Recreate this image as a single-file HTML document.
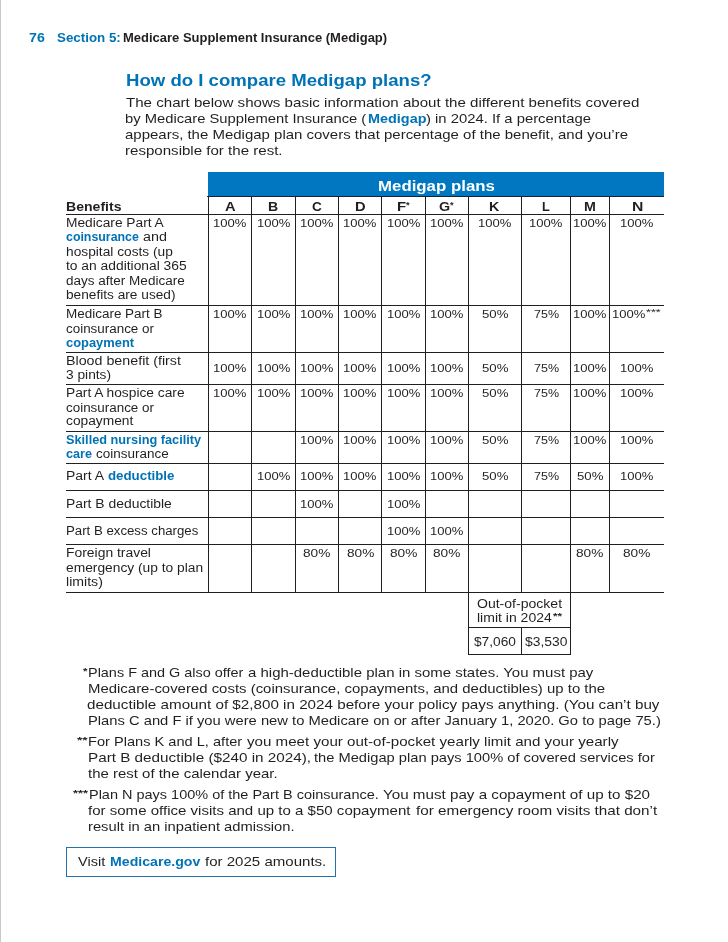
<!DOCTYPE html>
<html lang="en"><head><meta charset="utf-8"><title>Medigap plans</title>
<style>
html,body{margin:0;padding:0;background:#fff}
body{width:728px;height:942px;position:relative;overflow:hidden;font-family:"Liberation Sans", sans-serif;color:#231f20}
.t{position:absolute;white-space:pre;transform-origin:0 0;line-height:1;display:block}
#pg{position:absolute;left:0;top:0;width:728px;height:942px;will-change:transform}
.r{position:absolute}
b{font-weight:700}
b.l{color:#0073b6}
b.w{color:#fff}
</style></head>
<body>
<div id="pg">
<div class="r" style="left:0;top:0;width:1px;height:942px;background:#c9c9c9"></div>
<div class="r" style="left:208px;top:172px;width:456px;height:24px;background:#0077c0"></div>
<div class="r" style="left:207px;top:196px;width:457px;height:1px;background:#14243a"></div>
<div class="r" style="left:66px;top:214px;width:598px;height:1px;background:#231f20"></div>
<div class="r" style="left:66px;top:305px;width:598px;height:1px;background:#231f20"></div>
<div class="r" style="left:66px;top:352px;width:598px;height:1px;background:#231f20"></div>
<div class="r" style="left:66px;top:384px;width:598px;height:1px;background:#231f20"></div>
<div class="r" style="left:66px;top:431px;width:598px;height:1px;background:#231f20"></div>
<div class="r" style="left:66px;top:463px;width:598px;height:1px;background:#231f20"></div>
<div class="r" style="left:66px;top:490px;width:598px;height:1px;background:#231f20"></div>
<div class="r" style="left:66px;top:517px;width:598px;height:1px;background:#231f20"></div>
<div class="r" style="left:66px;top:544px;width:598px;height:1px;background:#231f20"></div>
<div class="r" style="left:66px;top:592px;width:598px;height:1px;background:#231f20"></div>
<div class="r" style="left:208px;top:196px;width:1px;height:397px;background:#231f20"></div>
<div class="r" style="left:251px;top:196px;width:1px;height:397px;background:#231f20"></div>
<div class="r" style="left:295px;top:196px;width:1px;height:397px;background:#231f20"></div>
<div class="r" style="left:338px;top:196px;width:1px;height:397px;background:#231f20"></div>
<div class="r" style="left:381px;top:196px;width:1px;height:397px;background:#231f20"></div>
<div class="r" style="left:425px;top:196px;width:1px;height:397px;background:#231f20"></div>
<div class="r" style="left:468px;top:196px;width:1px;height:397px;background:#231f20"></div>
<div class="r" style="left:521px;top:196px;width:1px;height:397px;background:#231f20"></div>
<div class="r" style="left:570px;top:196px;width:1px;height:397px;background:#231f20"></div>
<div class="r" style="left:609px;top:196px;width:1px;height:397px;background:#231f20"></div>
<div class="r" style="left:468px;top:592px;width:1px;height:63px;background:#231f20"></div>
<div class="r" style="left:570px;top:592px;width:1px;height:63px;background:#231f20"></div>
<div class="r" style="left:521px;top:627px;width:1px;height:28px;background:#231f20"></div>
<div class="r" style="left:468px;top:627px;width:103px;height:1px;background:#231f20"></div>
<div class="r" style="left:468px;top:654px;width:103px;height:1px;background:#231f20"></div>
<div class="r" style="left:66px;top:847px;width:268px;height:28px;border:1px solid #2273ab;box-sizing:content-box"></div>
<div class="t" id="t0" style="left:29.31px;top:31px;font-size:12px;line-height:14px;transform:scaleX(1.1840);"><b class="l">76</b></div>
<div class="t" id="t1" style="left:57.44px;top:31px;font-size:12px;line-height:14px;transform:scaleX(1.1121);"><b class="l">Section&#32;5:</b></div>
<div class="t" id="t2" style="left:122.79px;top:31px;font-size:12px;line-height:14px;transform:scaleX(1.0822);"><b>Medicare&#32;Supplement&#32;Insurance&#32;(Medigap)</b></div>
<div class="t" id="t3" style="left:125.74px;top:72px;font-size:16px;line-height:17px;transform:scaleX(1.1613);"><b class="l">How&#32;do&#32;I&#32;compare&#32;Medigap&#32;plans?</b></div>
<div class="t" id="t4" style="left:125.71px;top:95px;font-size:13.2px;line-height:15px;transform:scaleX(1.1448);">The&#32;chart&#32;below&#32;shows&#32;basic&#32;information&#32;about&#32;the&#32;different&#32;benefits&#32;covered</div>
<div class="t" id="t5" style="left:125.16px;top:111px;font-size:13.2px;line-height:15px;transform:scaleX(1.1194);">by&#32;Medicare&#32;Supplement&#32;Insurance&#32;(</div>
<div class="t" id="t6" style="left:367.68px;top:111px;font-size:13.2px;line-height:15px;transform:scaleX(1.0928);"><b class="l">Medigap</b></div>
<div class="t" id="t7" style="left:426.32px;top:111px;font-size:13.2px;line-height:15px;transform:scaleX(1.1245);">)&#32;in&#32;2024.&#32;If&#32;a&#32;percentage</div>
<div class="t" id="t8" style="left:125.43px;top:127px;font-size:13.2px;line-height:15px;transform:scaleX(1.1359);">appears,&#32;the&#32;Medigap&#32;plan&#32;covers&#32;that&#32;percentage&#32;of&#32;the&#32;benefit,&#32;and&#32;you’re</div>
<div class="t" id="t9" style="left:125.14px;top:143px;font-size:13.2px;line-height:15px;transform:scaleX(1.1433);">responsible&#32;for&#32;the&#32;rest.</div>
<div class="t" id="t10" style="left:377.54px;top:178px;font-size:14.5px;line-height:16px;transform:scaleX(1.1606);"><b class="w">Medigap&#32;plans</b></div>
<div class="t" id="t11" style="left:66.12px;top:200px;font-size:12px;line-height:14px;transform:scaleX(1.1719);"><b>Benefits</b></div>
<div class="t" id="t12" style="left:65.85px;top:216px;font-size:12px;line-height:14px;transform:scaleX(1.1454);">Medicare&#32;Part&#32;A</div>
<div class="t" id="t13" style="left:66.48px;top:230px;font-size:12px;line-height:14px;transform:scaleX(1.0308);"><b class="l">coinsurance</b></div>
<div class="t" id="t14" style="left:142.70px;top:230px;font-size:12px;line-height:14px;transform:scaleX(1.1947);">and</div>
<div class="t" id="t15" style="left:66.14px;top:245px;font-size:12px;line-height:14px;transform:scaleX(1.1447);">hospital&#32;costs&#32;(up</div>
<div class="t" id="t16" style="left:66.21px;top:259px;font-size:12px;line-height:14px;transform:scaleX(1.1519);">to&#32;an&#32;additional&#32;365</div>
<div class="t" id="t17" style="left:66.44px;top:274px;font-size:12px;line-height:14px;transform:scaleX(1.1263);">days&#32;after&#32;Medicare</div>
<div class="t" id="t18" style="left:66.15px;top:288px;font-size:12px;line-height:14px;transform:scaleX(1.1398);">benefits&#32;are&#32;used)</div>
<div class="t" id="t19" style="left:65.88px;top:307px;font-size:12px;line-height:14px;transform:scaleX(1.1219);">Medicare&#32;Part&#32;B</div>
<div class="t" id="t20" style="left:66.44px;top:322px;font-size:12px;line-height:14px;transform:scaleX(1.1179);">coinsurance&#32;or</div>
<div class="t" id="t21" style="left:66.46px;top:336px;font-size:12px;line-height:14px;transform:scaleX(1.0741);"><b class="l">copayment</b></div>
<div class="t" id="t22" style="left:65.81px;top:354px;font-size:12px;line-height:14px;transform:scaleX(1.1885);">Blood&#32;benefit&#32;(first</div>
<div class="t" id="t23" style="left:66.43px;top:368px;font-size:12px;line-height:14px;transform:scaleX(1.1451);">3&#32;pints)</div>
<div class="t" id="t24" style="left:65.85px;top:386px;font-size:12px;line-height:14px;transform:scaleX(1.1471);">Part&#32;A&#32;hospice&#32;care</div>
<div class="t" id="t25" style="left:66.44px;top:401px;font-size:12px;line-height:14px;transform:scaleX(1.1179);">coinsurance&#32;or</div>
<div class="t" id="t26" style="left:66.43px;top:414px;font-size:12px;line-height:14px;transform:scaleX(1.1468);">copayment</div>
<div class="t" id="t27" style="left:66.47px;top:433px;font-size:12px;line-height:14px;transform:scaleX(1.0604);"><b class="l">Skilled&#32;nursing&#32;facility</b></div>
<div class="t" id="t28" style="left:66.47px;top:447px;font-size:12px;line-height:14px;transform:scaleX(1.0526);"><b class="l">care</b></div>
<div class="t" id="t29" style="left:96.14px;top:447px;font-size:12px;line-height:14px;transform:scaleX(1.1231);">coinsurance</div>
<div class="t" id="t30" style="left:65.83px;top:469px;font-size:12px;line-height:14px;transform:scaleX(1.1654);">Part&#32;A</div>
<div class="t" id="t31" style="left:107.85px;top:469px;font-size:12px;line-height:14px;transform:scaleX(1.1072);"><b class="l">deductible</b></div>
<div class="t" id="t32" style="left:65.84px;top:497px;font-size:12px;line-height:14px;transform:scaleX(1.1578);">Part&#32;B&#32;deductible</div>
<div class="t" id="t33" style="left:65.90px;top:524px;font-size:12px;line-height:14px;transform:scaleX(1.1023);">Part&#32;B&#32;excess&#32;charges</div>
<div class="t" id="t34" style="left:65.84px;top:546px;font-size:12px;line-height:14px;transform:scaleX(1.1580);">Foreign&#32;travel</div>
<div class="t" id="t35" style="left:66.43px;top:561px;font-size:12px;line-height:14px;transform:scaleX(1.1484);">emergency&#32;(up&#32;to&#32;plan</div>
<div class="t" id="t36" style="left:66.12px;top:575px;font-size:12px;line-height:14px;transform:scaleX(1.1767);">limits)</div>
<div class="t" id="t37" style="left:224.59px;top:200px;font-size:12px;line-height:14px;transform:scaleX(1.2250);"><b>A</b></div>
<div class="t" id="t38" style="left:268.32px;top:200px;font-size:12px;line-height:14px;transform:scaleX(1.1733);"><b>B</b></div>
<div class="t" id="t39" style="left:311.73px;top:200px;font-size:12px;line-height:14px;transform:scaleX(1.1355);"><b>C</b></div>
<div class="t" id="t40" style="left:354.88px;top:200px;font-size:12px;line-height:14px;transform:scaleX(1.2267);"><b>D</b></div>
<div class="t" id="t41" style="left:396.66px;top:200px;font-size:12px;line-height:14px;transform:scaleX(1.2480);"><b>F</b></div>
<div class="t" id="t42" style="left:439.21px;top:200px;font-size:12px;line-height:14px;transform:scaleX(1.1879);"><b>G</b></div>
<div class="t" id="t43" style="left:489.41px;top:200px;font-size:12px;line-height:14px;transform:scaleX(1.1871);"><b>K</b></div>
<div class="t" id="t44" style="left:542.21px;top:200px;font-size:12px;line-height:14px;transform:scaleX(1.0560);"><b>L</b></div>
<div class="t" id="t45" style="left:584.01px;top:200px;font-size:12px;line-height:14px;transform:scaleX(1.1882);"><b>M</b></div>
<div class="t" id="t46" style="left:631.52px;top:200px;font-size:12px;line-height:14px;transform:scaleX(1.3103);"><b>N</b></div>
<div class="t" id="t47" style="left:406.20px;top:200px;font-size:9px;line-height:10px;transform:scaleX(1.0286);"><b>*</b></div>
<div class="t" id="t48" style="left:450.40px;top:200px;font-size:9px;line-height:10px;transform:scaleX(1.0286);"><b>*</b></div>
<div class="t" id="t49" style="left:212.95px;top:217px;font-size:11.5px;line-height:12px;transform:scaleX(1.1327);">100%</div>
<div class="t" id="t50" style="left:256.55px;top:217px;font-size:11.5px;line-height:12px;transform:scaleX(1.1327);">100%</div>
<div class="t" id="t51" style="left:300.15px;top:217px;font-size:11.5px;line-height:12px;transform:scaleX(1.1327);">100%</div>
<div class="t" id="t52" style="left:343.45px;top:217px;font-size:11.5px;line-height:12px;transform:scaleX(1.1327);">100%</div>
<div class="t" id="t53" style="left:386.95px;top:217px;font-size:11.5px;line-height:12px;transform:scaleX(1.1327);">100%</div>
<div class="t" id="t54" style="left:430.40px;top:217px;font-size:11.5px;line-height:12px;transform:scaleX(1.1327);">100%</div>
<div class="t" id="t55" style="left:478.40px;top:217px;font-size:11.5px;line-height:12px;transform:scaleX(1.1327);">100%</div>
<div class="t" id="t56" style="left:529.40px;top:217px;font-size:11.5px;line-height:12px;transform:scaleX(1.1327);">100%</div>
<div class="t" id="t57" style="left:573.30px;top:217px;font-size:11.5px;line-height:12px;transform:scaleX(1.1327);">100%</div>
<div class="t" id="t58" style="left:619.95px;top:217px;font-size:11.5px;line-height:12px;transform:scaleX(1.1327);">100%</div>
<div class="t" id="t59" style="left:212.95px;top:308px;font-size:11.5px;line-height:12px;transform:scaleX(1.1327);">100%</div>
<div class="t" id="t60" style="left:256.55px;top:308px;font-size:11.5px;line-height:12px;transform:scaleX(1.1327);">100%</div>
<div class="t" id="t61" style="left:300.15px;top:308px;font-size:11.5px;line-height:12px;transform:scaleX(1.1327);">100%</div>
<div class="t" id="t62" style="left:343.45px;top:308px;font-size:11.5px;line-height:12px;transform:scaleX(1.1327);">100%</div>
<div class="t" id="t63" style="left:386.95px;top:308px;font-size:11.5px;line-height:12px;transform:scaleX(1.1327);">100%</div>
<div class="t" id="t64" style="left:430.40px;top:308px;font-size:11.5px;line-height:12px;transform:scaleX(1.1327);">100%</div>
<div class="t" id="t65" style="left:481.93px;top:308px;font-size:11.5px;line-height:12px;transform:scaleX(1.1461);">50%</div>
<div class="t" id="t66" style="left:533.61px;top:308px;font-size:11.5px;line-height:12px;transform:scaleX(1.0876);">75%</div>
<div class="t" id="t67" style="left:573.30px;top:308px;font-size:11.5px;line-height:12px;transform:scaleX(1.1327);">100%</div>
<div class="t" id="t68" style="left:612.35px;top:308px;font-size:11.5px;line-height:12px;transform:scaleX(1.1327);">100%</div>
<div class="t" id="t69" style="left:645.87px;top:306px;font-size:9.5px;line-height:11px;transform:scaleX(1.3209);">***</div>
<div class="t" id="t70" style="left:212.95px;top:362px;font-size:11.5px;line-height:12px;transform:scaleX(1.1327);">100%</div>
<div class="t" id="t71" style="left:256.55px;top:362px;font-size:11.5px;line-height:12px;transform:scaleX(1.1327);">100%</div>
<div class="t" id="t72" style="left:300.15px;top:362px;font-size:11.5px;line-height:12px;transform:scaleX(1.1327);">100%</div>
<div class="t" id="t73" style="left:343.45px;top:362px;font-size:11.5px;line-height:12px;transform:scaleX(1.1327);">100%</div>
<div class="t" id="t74" style="left:386.95px;top:362px;font-size:11.5px;line-height:12px;transform:scaleX(1.1327);">100%</div>
<div class="t" id="t75" style="left:430.40px;top:362px;font-size:11.5px;line-height:12px;transform:scaleX(1.1327);">100%</div>
<div class="t" id="t76" style="left:481.93px;top:362px;font-size:11.5px;line-height:12px;transform:scaleX(1.1461);">50%</div>
<div class="t" id="t77" style="left:533.61px;top:362px;font-size:11.5px;line-height:12px;transform:scaleX(1.0876);">75%</div>
<div class="t" id="t78" style="left:573.30px;top:362px;font-size:11.5px;line-height:12px;transform:scaleX(1.1327);">100%</div>
<div class="t" id="t79" style="left:619.95px;top:362px;font-size:11.5px;line-height:12px;transform:scaleX(1.1327);">100%</div>
<div class="t" id="t80" style="left:212.95px;top:387px;font-size:11.5px;line-height:12px;transform:scaleX(1.1327);">100%</div>
<div class="t" id="t81" style="left:256.55px;top:387px;font-size:11.5px;line-height:12px;transform:scaleX(1.1327);">100%</div>
<div class="t" id="t82" style="left:300.15px;top:387px;font-size:11.5px;line-height:12px;transform:scaleX(1.1327);">100%</div>
<div class="t" id="t83" style="left:343.45px;top:387px;font-size:11.5px;line-height:12px;transform:scaleX(1.1327);">100%</div>
<div class="t" id="t84" style="left:386.95px;top:387px;font-size:11.5px;line-height:12px;transform:scaleX(1.1327);">100%</div>
<div class="t" id="t85" style="left:430.40px;top:387px;font-size:11.5px;line-height:12px;transform:scaleX(1.1327);">100%</div>
<div class="t" id="t86" style="left:481.93px;top:387px;font-size:11.5px;line-height:12px;transform:scaleX(1.1461);">50%</div>
<div class="t" id="t87" style="left:533.61px;top:387px;font-size:11.5px;line-height:12px;transform:scaleX(1.0876);">75%</div>
<div class="t" id="t88" style="left:573.30px;top:387px;font-size:11.5px;line-height:12px;transform:scaleX(1.1327);">100%</div>
<div class="t" id="t89" style="left:619.95px;top:387px;font-size:11.5px;line-height:12px;transform:scaleX(1.1327);">100%</div>
<div class="t" id="t90" style="left:300.15px;top:434px;font-size:11.5px;line-height:12px;transform:scaleX(1.1327);">100%</div>
<div class="t" id="t91" style="left:343.45px;top:434px;font-size:11.5px;line-height:12px;transform:scaleX(1.1327);">100%</div>
<div class="t" id="t92" style="left:386.95px;top:434px;font-size:11.5px;line-height:12px;transform:scaleX(1.1327);">100%</div>
<div class="t" id="t93" style="left:430.40px;top:434px;font-size:11.5px;line-height:12px;transform:scaleX(1.1327);">100%</div>
<div class="t" id="t94" style="left:481.93px;top:434px;font-size:11.5px;line-height:12px;transform:scaleX(1.1461);">50%</div>
<div class="t" id="t95" style="left:533.61px;top:434px;font-size:11.5px;line-height:12px;transform:scaleX(1.0876);">75%</div>
<div class="t" id="t96" style="left:573.30px;top:434px;font-size:11.5px;line-height:12px;transform:scaleX(1.1327);">100%</div>
<div class="t" id="t97" style="left:619.95px;top:434px;font-size:11.5px;line-height:12px;transform:scaleX(1.1327);">100%</div>
<div class="t" id="t98" style="left:256.55px;top:470px;font-size:11.5px;line-height:12px;transform:scaleX(1.1327);">100%</div>
<div class="t" id="t99" style="left:300.15px;top:470px;font-size:11.5px;line-height:12px;transform:scaleX(1.1327);">100%</div>
<div class="t" id="t100" style="left:343.45px;top:470px;font-size:11.5px;line-height:12px;transform:scaleX(1.1327);">100%</div>
<div class="t" id="t101" style="left:386.95px;top:470px;font-size:11.5px;line-height:12px;transform:scaleX(1.1327);">100%</div>
<div class="t" id="t102" style="left:430.40px;top:470px;font-size:11.5px;line-height:12px;transform:scaleX(1.1327);">100%</div>
<div class="t" id="t103" style="left:481.93px;top:470px;font-size:11.5px;line-height:12px;transform:scaleX(1.1461);">50%</div>
<div class="t" id="t104" style="left:533.61px;top:470px;font-size:11.5px;line-height:12px;transform:scaleX(1.0876);">75%</div>
<div class="t" id="t105" style="left:576.83px;top:470px;font-size:11.5px;line-height:12px;transform:scaleX(1.1461);">50%</div>
<div class="t" id="t106" style="left:619.95px;top:470px;font-size:11.5px;line-height:12px;transform:scaleX(1.1327);">100%</div>
<div class="t" id="t107" style="left:300.15px;top:498px;font-size:11.5px;line-height:12px;transform:scaleX(1.1327);">100%</div>
<div class="t" id="t108" style="left:386.95px;top:498px;font-size:11.5px;line-height:12px;transform:scaleX(1.1327);">100%</div>
<div class="t" id="t109" style="left:386.95px;top:525px;font-size:11.5px;line-height:12px;transform:scaleX(1.1327);">100%</div>
<div class="t" id="t110" style="left:430.40px;top:525px;font-size:11.5px;line-height:12px;transform:scaleX(1.1327);">100%</div>
<div class="t" id="t111" style="left:303.21px;top:547px;font-size:11.5px;line-height:12px;transform:scaleX(1.1865);">80%</div>
<div class="t" id="t112" style="left:346.51px;top:547px;font-size:11.5px;line-height:12px;transform:scaleX(1.1865);">80%</div>
<div class="t" id="t113" style="left:390.01px;top:547px;font-size:11.5px;line-height:12px;transform:scaleX(1.1865);">80%</div>
<div class="t" id="t114" style="left:433.46px;top:547px;font-size:11.5px;line-height:12px;transform:scaleX(1.1865);">80%</div>
<div class="t" id="t115" style="left:576.36px;top:547px;font-size:11.5px;line-height:12px;transform:scaleX(1.1865);">80%</div>
<div class="t" id="t116" style="left:623.01px;top:547px;font-size:11.5px;line-height:12px;transform:scaleX(1.1865);">80%</div>
<div class="t" id="t117" style="left:476.77px;top:597px;font-size:12px;line-height:14px;transform:scaleX(1.1696);">Out-of-pocket</div>
<div class="t" id="t118" style="left:476.72px;top:611px;font-size:12px;line-height:14px;transform:scaleX(1.1683);">limit&#32;in&#32;2024</div>
<div class="t" id="t119" style="left:552.80px;top:611px;font-size:9px;line-height:10px;transform:scaleX(1.2857);"><b>**</b></div>
<div class="t" id="t120" style="left:474.01px;top:635px;font-size:12px;line-height:14px;transform:scaleX(1.1417);">$7,060</div>
<div class="t" id="t121" style="left:524.71px;top:635px;font-size:12px;line-height:14px;transform:scaleX(1.1556);">$3,530</div>
<div class="t" id="t122" style="left:82.60px;top:666px;font-size:8.5px;line-height:10px;transform:scaleX(1.3538);"><b>*</b></div>
<div class="t" id="t123" style="left:88.01px;top:665px;font-size:13.2px;line-height:15px;transform:scaleX(1.0948);">Plans&#32;F&#32;and&#32;G&#32;also&#32;offer</div>
<div class="t" id="t124" style="left:248.03px;top:665px;font-size:13.2px;line-height:15px;transform:scaleX(1.1351);">a&#32;high-deductible&#32;plan&#32;in&#32;some&#32;states.&#32;You&#32;must&#32;pay</div>
<div class="t" id="t125" style="left:87.67px;top:681px;font-size:13.2px;line-height:15px;transform:scaleX(1.1323);">Medicare-covered&#32;costs&#32;(coinsurance,&#32;copayments,&#32;and&#32;deductibles)&#32;up&#32;to&#32;the</div>
<div class="t" id="t126" style="left:87.42px;top:697px;font-size:13.2px;line-height:15px;transform:scaleX(1.1528);">deductible&#32;amount&#32;of&#32;$2,800&#32;in&#32;2024&#32;before&#32;your&#32;policy&#32;pays&#32;anything.&#32;(You&#32;can’t&#32;buy</div>
<div class="t" id="t127" style="left:87.98px;top:713px;font-size:13.2px;line-height:15px;transform:scaleX(1.1179);">Plans&#32;C&#32;and&#32;F&#32;if&#32;you&#32;were&#32;new&#32;to&#32;Medicare&#32;on&#32;or&#32;after&#32;January&#32;1,&#32;2020.&#32;Go&#32;to&#32;page&#32;75.)</div>
<div class="t" id="t128" style="left:76.50px;top:735px;font-size:8.5px;line-height:10px;transform:scaleX(1.6154);"><b>**</b></div>
<div class="t" id="t129" style="left:87.59px;top:734px;font-size:13.2px;line-height:15px;transform:scaleX(1.1072);">For&#32;Plans&#32;K&#32;and&#32;L,&#32;after</div>
<div class="t" id="t130" style="left:246.50px;top:734px;font-size:13.2px;line-height:15px;transform:scaleX(1.1469);">you&#32;meet&#32;your&#32;out-of-pocket&#32;yearly&#32;limit&#32;and&#32;your&#32;yearly</div>
<div class="t" id="t131" style="left:87.54px;top:750px;font-size:13.2px;line-height:15px;transform:scaleX(1.1565);">Part&#32;B&#32;deductible&#32;($240&#32;in&#32;2024),</div>
<div class="t" id="t132" style="left:314.42px;top:750px;font-size:13.2px;line-height:15px;transform:scaleX(1.1124);">the&#32;Medigap&#32;plan&#32;pays&#32;100%&#32;of&#32;covered&#32;services&#32;for</div>
<div class="t" id="t133" style="left:88.02px;top:766px;font-size:13.2px;line-height:15px;transform:scaleX(1.1348);">the&#32;rest&#32;of&#32;the&#32;calendar&#32;year.</div>
<div class="t" id="t134" style="left:73.00px;top:788px;font-size:8.5px;line-height:10px;transform:scaleX(1.5000);"><b>***</b></div>
<div class="t" id="t135" style="left:88.50px;top:787px;font-size:13.2px;line-height:15px;transform:scaleX(1.0980);">Plan&#32;N&#32;pays&#32;100%&#32;of&#32;the&#32;Part&#32;B&#32;coinsurance.</div>
<div class="t" id="t136" style="left:383.42px;top:787px;font-size:13.2px;line-height:15px;transform:scaleX(1.1515);">You&#32;must&#32;pay&#32;a&#32;copayment&#32;of&#32;up&#32;to&#32;$20</div>
<div class="t" id="t137" style="left:87.91px;top:803px;font-size:13.2px;line-height:15px;transform:scaleX(1.1405);">for&#32;some&#32;office&#32;visits&#32;and&#32;up&#32;to&#32;a&#32;$50&#32;copayment</div>
<div class="t" id="t138" style="left:416.21px;top:803px;font-size:13.2px;line-height:15px;transform:scaleX(1.1544);">for&#32;emergency&#32;room&#32;visits&#32;that&#32;don’t</div>
<div class="t" id="t139" style="left:87.56px;top:819px;font-size:13.2px;line-height:15px;transform:scaleX(1.1185);">result&#32;in&#32;an&#32;inpatient&#32;admission.</div>
<div class="t" id="t140" style="left:78.10px;top:854px;font-size:13px;line-height:15px;transform:scaleX(1.1175);">Visit</div>
<div class="t" id="t141" style="left:109.58px;top:854px;font-size:13px;line-height:15px;transform:scaleX(1.0869);"><b class="l">Medicare.gov</b></div>
<div class="t" id="t142" style="left:204.51px;top:854px;font-size:13px;line-height:15px;transform:scaleX(1.1575);">for&#32;2025&#32;amounts.</div>
</div>
</body></html>
